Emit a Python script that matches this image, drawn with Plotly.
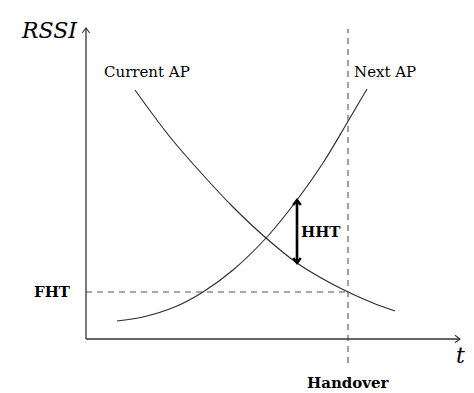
import plotly.graph_objects as go

# Data (t, RSSI)
current_t = [4.9, 8.4, 11.7, 14.7, 18.0, 21.1, 23.7, 26.2, 28.7, 30.9]
current_r = [24.9, 20.2, 16.4, 13.2, 10.1, 7.6, 6.0, 4.7, 3.6, 2.8]
next_t = [3.1, 5.7, 9.1, 11.7, 14.7, 18.1, 21.1, 23.7, 26.1, 28.1]
next_r = [1.8, 2.2, 3.3, 4.7, 6.9, 10.2, 13.9, 17.6, 21.6, 25.0]
handover_t = 26.2
fht = 4.7
hht_t = 21.1
hht_low = 7.6
hht_high = 13.9
x_axis_end = 37.4
y_axis_end = 31.1
handover_top = 31.0
handover_bottom = -2.4

# page body has an 8px margin; figure is sized to fill the rest
W, H = 466, 385
xr = [-7.8, 38.8]
yr = [-5.4, 33.1]
sx = W / (xr[1] - xr[0])   # px per unit
sy = H / (yr[1] - yr[0])

line_col = "#2a2a2a"
dash_col = "#555555"
serif = "DejaVu Serif"

fig = go.Figure()

for tx, ty in ((current_t, current_r), (next_t, next_r)):
    fig.add_trace(go.Scatter(x=tx, y=ty, mode="lines",
                             line=dict(color=line_col, width=1.1, shape="spline", smoothing=1.0),
                             hoverinfo="skip", showlegend=False))

# dashed lines
fig.add_trace(go.Scatter(x=[0, handover_t], y=[fht, fht], mode="lines",
                         line=dict(color=dash_col, width=1.1, dash="6px,5px"),
                         hoverinfo="skip", showlegend=False))
fig.add_trace(go.Scatter(x=[handover_t, handover_t], y=[handover_bottom, handover_top], mode="lines",
                         line=dict(color=dash_col, width=1.1, dash="6px,5px"),
                         hoverinfo="skip", showlegend=False))

# axes
fig.add_trace(go.Scatter(x=[0, x_axis_end], y=[0, 0], mode="lines",
                         line=dict(color="#333", width=1.3), hoverinfo="skip", showlegend=False))
fig.add_trace(go.Scatter(x=[0, 0], y=[0, y_axis_end], mode="lines",
                         line=dict(color="#333", width=1.3), hoverinfo="skip", showlegend=False))

def vhead(xt, yt, dx, dy, size, width, color):
    # open V arrowhead; dx,dy unit direction (y up)
    bx, by = -dx, -dy
    px_, py_ = -dy, dx
    a = size
    w = size * 0.75
    p1 = (xt + (bx * a + px_ * w) / sx, yt + (by * a + py_ * w) / sy)
    p2 = (xt + (bx * a - px_ * w) / sx, yt + (by * a - py_ * w) / sy)
    fig.add_trace(go.Scatter(x=[p1[0], xt, p2[0]], y=[p1[1], yt, p2[1]], mode="lines",
                             line=dict(color=color, width=width),
                             hoverinfo="skip", showlegend=False))

vhead(x_axis_end, 0, 1, 0, 5, 1.1, "#333")
vhead(0, y_axis_end, 0, 1, 5, 1.1, "#333")

# HHT double arrow
fig.add_trace(go.Scatter(x=[hht_t, hht_t], y=[hht_low, hht_high], mode="lines",
                         line=dict(color="black", width=2.6), hoverinfo="skip", showlegend=False))
vhead(hht_t, hht_high, 0, 1, 5, 2.4, "black")
vhead(hht_t, hht_low, 0, -1, 5, 2.4, "black")

ann = []
def txt(x, y, s, size, xa="center", ya="middle", color="black"):
    ann.append(dict(x=x, y=y, text=s, showarrow=False, xanchor=xa, yanchor=ya,
                    font=dict(family=serif, size=size, color=color)))

txt(-3.7, 30.9, "<i>RSSI</i>", 22)
txt(37.4, -1.6, "<i>t</i>", 22)
txt(6.1, 26.7, "Current AP", 15)
txt(29.9, 26.7, "Next AP", 15)
txt(21.3, 10.7, "<b>HHT</b>", 15, xa="left")
txt(-3.4, fht, "<b>FHT</b>", 15)
txt(handover_t, -4.4, "<b>Handover</b>", 15)

fig.update_layout(
    width=W, height=H, margin=dict(l=0, r=0, t=0, b=0),
    plot_bgcolor="white", paper_bgcolor="white",
    xaxis=dict(range=xr, visible=False, fixedrange=True),
    yaxis=dict(range=yr, visible=False, fixedrange=True),
    annotations=ann,
)

fig.write_html("out.html")
